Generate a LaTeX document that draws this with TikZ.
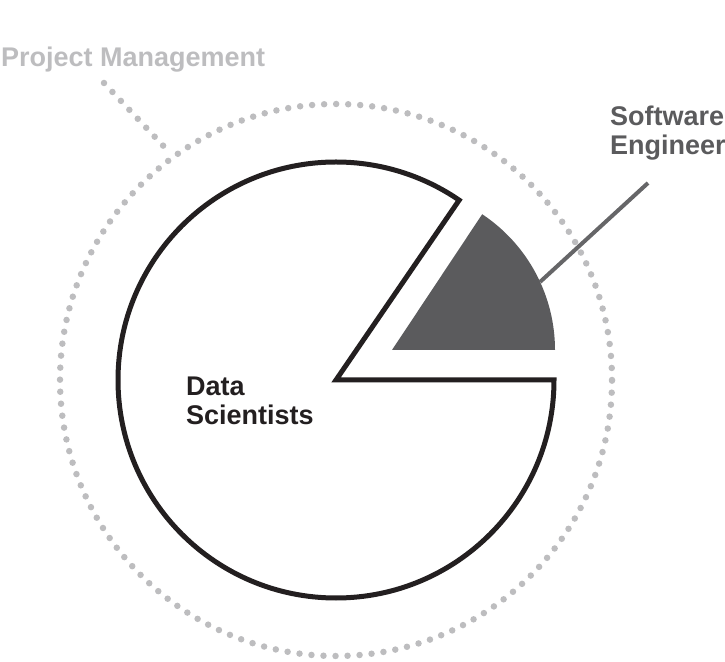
\documentclass[tikz,border=0pt]{standalone}
\usepackage{fontspec}
\setmainfont{Liberation Sans}
\definecolor{ringgray}{HTML}{BDBDBF}
\definecolor{slicegray}{HTML}{5B5B5D}
\definecolor{leadgray}{HTML}{666668}
\definecolor{pieblack}{HTML}{231F20}

\begin{document}
\begin{tikzpicture}[x=1pt, y=1pt,
    label/.style={font=\fontsize{27}{29}\selectfont\bfseries, inner sep=0, align=left, anchor=base west},
    dots/.style={ringgray, line width=6.5, line cap=round, dash pattern=on 0pt off 12.04pt}]
    \useasboundingbox (0,0) rectangle (725,661);

    % Centres of the slices
    \coordinate (O) at (336,281);
    \coordinate (S) at (392,311);

    % Project management ring
    \draw[dots] (O) circle[radius=276];

    % Data scientists slice
    \draw[pieblack, line width=5, line join=miter] (O) -- ++(0:218) arc[start angle=0, end angle=-304.4, radius=218] -- cycle;

    % Software engineer slice
    \fill[slicegray] (S) -- ++(0:163) arc[start angle=0, end angle=56.4, radius=163] -- cycle;

    % Labels (anchored at the baseline of the last line)
    \node[label, text=ringgray] (pm) at (1,594) {Project Management};
    \node[label, text=pieblack] (ds) at (186,236) {Data\\Scientists};
    \node[label, text=slicegray] (se) at (610,506) {Software\\Engineer};

    % Leader lines
    \coordinate (pmtip) at (104,578);
    \coordinate (pmring) at (171,507);
    \draw[dots, dash pattern=on 0pt off 12.3pt] (pmtip) -- (pmring);

    \path (S) ++(24.7:163) coordinate (searc);
    \coordinate (setip) at (648,478);
    \draw[leadgray, line width=4] (searc) -- (setip);
\end{tikzpicture}
\end{document}
